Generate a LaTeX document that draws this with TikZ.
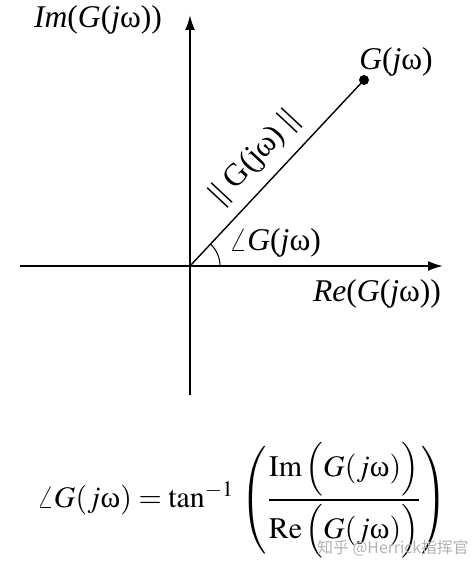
\documentclass[tikz,border=0pt]{standalone}
\usepackage{amsmath}
\usepackage{mathptmx}
\usepackage{fontspec}
\setmainfont{Liberation Serif}
\newfontfamily\cjk{Noto Sans CJK SC}
\usetikzlibrary{arrows.meta}
\tikzset{
	axisline/.style={line width=1.1pt, -{Latex[length=3mm,width=2mm]}},
	lbl/.style={font=\fontsize{18}{21}\selectfont, inner sep=0pt},
	eqlbl/.style={font=\fontsize{17}{20}\selectfont, inner sep=0pt},
}
\newcommand{\om}{\text{ω}}

\begin{document}
\begin{tikzpicture}[x=0.02cm,y=0.02cm]
		%%%%% START %%%%%
		\useasboundingbox (-190,266) rectangle (284,-304);
		
		\coordinate (O) at (0,0);
		\coordinate (xleft) at (-170,0);
		\coordinate (xright) at (253,0);
		\coordinate (ybot) at (0,-129);
		\coordinate (ytop) at (0,251);
		\coordinate (arcstart) at (30,0);
		
		\draw[axisline] (xleft) -- (xright);
		\draw[axisline] (ybot) -- (ytop);
		
		\node[circle, fill=black, inner sep=0pt, minimum size=0.2cm] (P) at (174,186) {};
		\draw[line width=0.8pt] (O) -- (P.center);
		\draw[line width=0.6pt] (arcstart) arc (0:47:30);
		
		\node[lbl] (imlbl) at (-92,246) {\textit{Im}(\textit{G}(\textit{j}ω))};
		\node[lbl] (relbl) at (187,-28) {\textit{Re}(\textit{G}(\textit{j}ω))};
		\node[lbl] (plbl) at (206,204) {\textit{G}(\textit{j}ω)};
		\node[lbl, rotate=47] (maglbl) at (65,108) {||\hspace{0.25em}G(jω)\hspace{0.25em}||};
		\node[lbl] (anglbl) at (85,23) {$\angle$\textit{G}(\textit{j}ω)};
		
		\node[eqlbl] (eq) at (52,-234) {$\angle G(j\om) = \tan^{-1}\,\left(\rule[-1cm]{0pt}{2cm}\dfrac{\mathrm{Im}\,\Bigl(G(j\om)\Bigr)}{\mathrm{Re}\,\Bigl(G(j\om)\Bigr)}\right)$};
		
		\node[font=\cjk\fontsize{9}{11}\selectfont, text=black!30] (wm) at (203,-282) {知乎 @Herrick指挥官};
		%%%%% END %%%%%
\end{tikzpicture}
\end{document}
